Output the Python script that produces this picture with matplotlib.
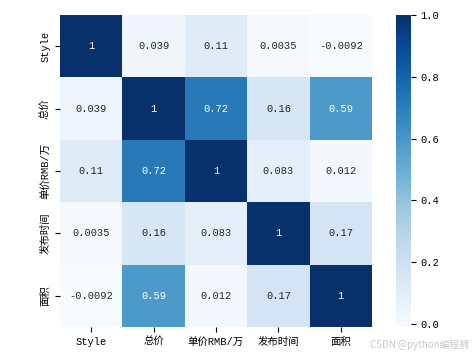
import matplotlib
matplotlib.use("Agg")
import matplotlib.pyplot as plt
import seaborn as sns
import numpy as np
import pandas as pd

# column names of the correlation matrix
labels = ["Style", "总价", "单价RMB/万", "发布时间", "面积"]

# correlation values (row by row)
row_style = [1, 0.039, 0.11, 0.0035, -0.0092]
row_total = [0.039, 1, 0.72, 0.16, 0.59]
row_unit = [0.11, 0.72, 1, 0.083, 0.012]
row_time = [0.0035, 0.16, 0.083, 1, 0.17]
row_area = [-0.0092, 0.59, 0.012, 0.17, 1]

corr = pd.DataFrame([row_style, row_total, row_unit, row_time, row_area],
                    index=labels, columns=labels)

plt.rcParams["font.family"] = ["Liberation Mono", "Noto Sans CJK SC", "DejaVu Sans"]
plt.rcParams["axes.unicode_minus"] = False

W, H = 474, 355
fig = plt.figure(figsize=(W / 100, H / 100), dpi=100)
ax = fig.add_axes([60 / W, 28 / H, 312 / W, 312 / H])
cax = fig.add_axes([396 / W, 28 / H, 15 / W, 312 / H])

sns.heatmap(corr, annot=True, cmap="Blues", ax=ax, cbar_ax=cax,
            annot_kws={"fontsize": 7.5})

ax.tick_params(labelsize=7.5)
ax.set_xticklabels(labels, rotation=0)
ax.set_yticklabels(labels, rotation=90, va="center")
cax.tick_params(labelsize=7.5)
cax.set_yticks([0.0, 0.2, 0.4, 0.6, 0.8, 1.0])
cax.set_yticklabels(["0.0", "0.2", "0.4", "0.6", "0.8", "1.0"])

fig.text(0.99, 0.015, "CSDN @python编程狮", ha="right", va="bottom",
         fontsize=7, color="#c8c8c8", family=["Noto Sans CJK SC", "DejaVu Sans"])

fig.savefig("out.png", dpi=100)
